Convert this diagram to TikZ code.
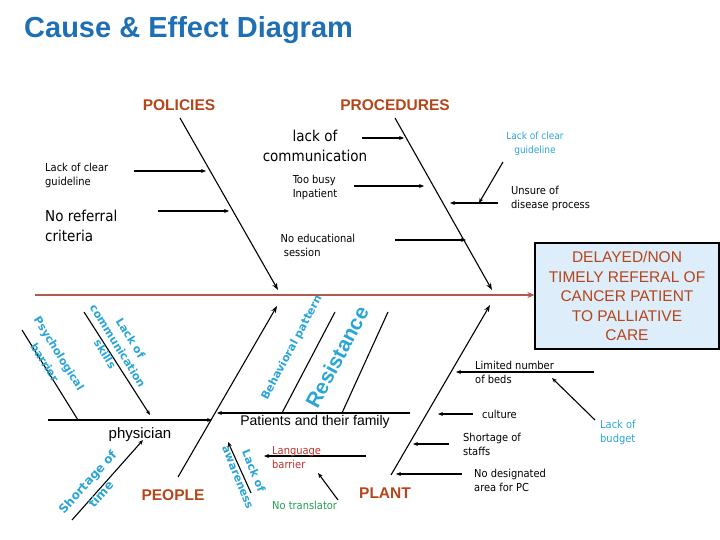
\documentclass[tikz,border=0pt]{standalone}
\usepackage{fontspec}
\setmainfont{Liberation Sans}
\newfontfamily\dv{DejaVu Sans}
\newfontfamily\dvc{DejaVu Sans Condensed}
\usetikzlibrary{arrows.meta}
\definecolor{ttl}{HTML}{1F6FB5}
\definecolor{cat}{HTML}{B5451B}
\definecolor{sky}{HTML}{2AA5D6}
\definecolor{spine}{HTML}{B05A50}
\definecolor{boxf}{HTML}{DDEEFA}
\definecolor{red2}{HTML}{C0302B}
\definecolor{grn}{HTML}{22A050}
\begin{document}
\begin{tikzpicture}[x=1pt,y=-1pt,
 bone/.style={line width=1.1pt,-{Stealth[length=7pt,width=5pt]}},
 sub/.style={line width=1.1pt,-{Stealth[length=5pt,width=4pt]}},
 catl/.style={text=cat,font=\bfseries\fontsize{15.5}{17}\selectfont},
 lbl/.style={font=\dvc\fontsize{11}{14}\selectfont,align=left,inner sep=0pt},
 big/.style={font=\dvc\fontsize{15}{20}\selectfont,align=left,inner sep=0pt},
 rot/.style={text=sky,font=\dv\bfseries\fontsize{11}{14}\selectfont,align=center,inner sep=0pt}]
\useasboundingbox (0,0) rectangle (720,540);
\node[text=ttl,font=\bfseries\fontsize{29}{31}\selectfont,anchor=west,inner sep=0pt] (title) at (24,30) {Cause \& Effect Diagram};
% spine and effect box
\node[draw=black,line width=1.2pt,fill=boxf,text=cat,align=center,font=\fontsize{15.5}{19.5}\selectfont,minimum width=184pt,minimum height=106pt,inner sep=2pt] (eff) at (627,296) {DELAYED/NON\\TIMELY REFERAL OF\\CANCER PATIENT\\TO PALLIATIVE\\CARE};
\coordinate (s0) at (35,295);
\draw[spine,line width=1.3pt,-{Stealth[length=7pt,width=6pt]}] (s0) -- (eff.west|-s0);
% categories
\node[catl] (pol) at (179,105) {POLICIES};
\node[catl] (pro) at (395,105) {PROCEDURES};
\node[catl] (peo) at (173,495) {PEOPLE};
\node[catl] (pla) at (385,493) {PLANT};
\coordinate (polA) at (180,118); \coordinate (polB) at (278,290);
\coordinate (proA) at (395,118); \coordinate (proB) at (492,290);
\coordinate (peoA) at (178,477); \coordinate (peoB) at (277,306);
\coordinate (plaA) at (391,475); \coordinate (plaB) at (490,305);
\draw[bone] (polA) -- (polB);
\draw[bone] (proA) -- (proB);
\draw[bone] (peoA) -- (peoB);
\draw[bone] (plaA) -- (plaB);
% policies causes
\node[lbl,anchor=west] (lcg) at (45,175) {Lack of clear\\ guideline};
\draw[sub] (134,171) -- (206,171);
\node[big,anchor=west] (nrc) at (45,226) {No referral\\criteria};
\draw[sub] (158,211) -- (229,211);
\node[big,align=center] (loc) at (315,146) {lack of\\communication};
\draw[sub] (362,138) -- (404,138);
\node[lbl] (tbi) at (315,187) {Too busy\\Inpatient};
\draw[sub] (354,186) -- (424,186);
\node[lbl] (nes) at (318,245) {No educational\\ \ session};
\draw[sub] (395,240) -- (466,240);
\node[lbl,anchor=west] (udp) at (511,198) {Unsure of\\disease process};
\draw[sub] (498,203) -- (450,203);
\node[lbl,text=sky,align=center,font=\dvc\fontsize{10}{14}\selectfont] (lcg2) at (535,144) {Lack of clear\\guideline};
\draw[sub] (503,162) -- (479,203);
% people causes
\draw[sub] (48,420) -- (212,420);
\node[font=\fontsize{15}{17}\selectfont] (phy) at (140,435) {physician};
\draw[line width=1.1pt] (22,330) -- (78,420);
\node[rot,rotate=-58] (psy) at (52,358) {Psychological\\[3pt]barrier};
\draw[sub] (84,312) -- (150,415);
\node[rot,rotate=-58] (lcs) at (118,346) {Lack of\\[1pt]communication\\[1pt]skills};
\draw[sub] (72,520) -- (143,440);
\node[rot,rotate=48,font=\dv\bfseries\fontsize{12}{15}\selectfont] (sot) at (94,488) {Shortage of\\[3pt]time};
% patients
\draw[sub] (410,413) -- (217,413);
\node[font=\fontsize{14}{16}\selectfont] (pat) at (315,422) {Patients and their family};
\draw[line width=1.1pt] (335,312) -- (282,413);
\node[rot,rotate=62] (beh) at (292,348) {Behavioral pattern};
\draw[line width=1.1pt] (388,312) -- (342,413);
\node[rot,rotate=62,font=\bfseries\fontsize{21}{22}\selectfont] (res) at (337,357) {Resistance};
\draw[sub] (251,493) -- (228,442);
\node[rot,rotate=-68] (law) at (246,474) {Lack of\\[3pt]awareness};
% plant side
\draw[sub] (366,456) -- (264,456);
\node[lbl,text=red2,anchor=west] (lan) at (272,458) {Language\\barrier};
\node[lbl,text=grn,anchor=west] (ntr) at (272,505) {No translator};
\draw[sub] (338,500) -- (318,473);
\draw[sub] (594,372) -- (456,372);
\node[lbl,anchor=west] (lnb) at (475,372) {Limited number\\ of beds};
\node[lbl,text=sky,anchor=west] (lob) at (600,432) {Lack of\\budget};
\draw[sub] (595,420) -- (552,378);
\draw[sub] (473,414) -- (438,414);
\node[lbl,anchor=west] (cul) at (482,414) {culture};
\draw[sub] (449,444) -- (413,444);
\node[lbl,anchor=west] (sos) at (463,444) {Shortage of\\ staffs};
\draw[sub] (462,474) -- (396,474);
\node[lbl,anchor=west] (nda) at (474,480) {No designated\\area for PC};
\end{tikzpicture}
\end{document}
